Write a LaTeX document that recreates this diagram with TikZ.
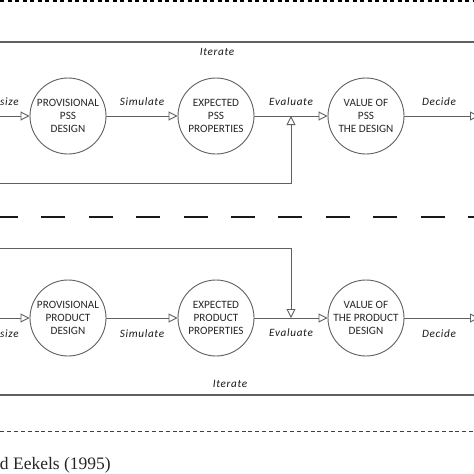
\documentclass[tikz,border=0pt]{standalone}
\usepackage{fontspec}
\setmainfont{Liberation Serif}
\newfontfamily\diagfont{Carlito}
\newfontfamily\labfont[LetterSpace=6]{Carlito}
\usetikzlibrary{arrows.meta}
\definecolor{lineg}{HTML}{606060}
\definecolor{textg}{HTML}{262626}
\tikzset{
  stage/.style={circle, draw=lineg, line width=0.9pt, minimum size=76pt, inner sep=0pt},
  stagetext/.style={align=center, text=textg, font=\diagfont\fontsize{11.2}{13.3}\selectfont},
  flow/.style={draw=lineg, line width=1pt, -{Triangle[open, length=9pt, width=9pt, line width=0.9pt]}},
  boxline/.style={draw=lineg, line width=1.4pt},
  act/.style={text=black!90, font=\labfont\itshape\fontsize{11.2}{13}\selectfont, inner sep=0pt},
}
\begin{document}
\begin{tikzpicture}[x=1pt,y=-1pt]
\clip (0,0) rectangle (474,474);
\fill[white] (0,0) rectangle (474,474);
% top dotted line
\draw[black, line width=2pt, dash pattern=on 4pt off 3.5pt] (0,1.2) -- (474,1.2);
% top section
\coordinate (tl) at (0,42);
\coordinate (tr) at (474,42);
\draw[boxline] (tl) -- (tr);
\node[act] (it1) at (217,52) {Iterate};
\node[stage, label={[stagetext]center:PROVISIONAL\\PSS\\DESIGN}] (c1) at (68,116) {};
\node[stage, label={[stagetext]center:EXPECTED\\PSS\\PROPERTIES}] (c2) at (216,116) {};
\node[stage, label={[stagetext]center:VALUE OF\\PSS\\THE DESIGN}] (c3) at (366,116) {};
\coordinate (in1) at (0,116);
\coordinate (out1) at (479,116);
\coordinate (fb1) at (0,183);
\coordinate (ev1) at (291,116);
\draw[flow] (in1) -- (c1);
\draw[flow] (c1) -- (c2);
\draw[flow] (c2) -- (c3);
\draw[flow] (c3) -- (out1);
\draw[flow] (fb1) -| (ev1);
\node[act, anchor=west] (sy1) at (0,102) {size};
\node[act] (si1) at (142,102) {Simulate};
\node[act] (ev1l) at (291,102) {Evaluate};
\node[act] (de1) at (439,102) {Decide};
% middle dashed line
\draw[black!90, line width=2pt, dash pattern=on 24pt off 23.4pt, dash phase=6pt] (0,217) -- (474,217);
% bottom section
\coordinate (fb2) at (0,248);
\coordinate (ev2) at (291,318);
\draw[flow] (fb2) -| (ev2);
\node[stage, label={[stagetext]center:PROVISIONAL\\PRODUCT\\DESIGN}] (d1) at (68,318) {};
\node[stage, label={[stagetext]center:EXPECTED\\PRODUCT\\PROPERTIES}] (d2) at (216,318) {};
\node[stage, label={[stagetext]center:VALUE OF\\THE PRODUCT\\DESIGN}] (d3) at (366,318) {};
\coordinate (in2) at (0,318);
\coordinate (out2) at (479,318);
\draw[flow] (in2) -- (d1);
\draw[flow] (d1) -- (d2);
\draw[flow] (d2) -- (d3);
\draw[flow] (d3) -- (out2);
\node[act, anchor=west] (sy2) at (0,334) {size};
\node[act] (si2) at (142,334) {Simulate};
\node[act] (ev2l) at (291,333) {Evaluate};
\node[act] (de2) at (439,334) {Decide};
\node[act] (it2) at (230,384) {Iterate};
\coordinate (bl) at (0,395);
\coordinate (br) at (474,395);
\draw[boxline] (bl) -- (br);
% bottom dashed line
\draw[black!75, line width=0.9pt, dash pattern=on 4pt off 2.9pt] (0,431) -- (474,431);
\node[anchor=base east, inner sep=0pt, font=\fontsize{17.5}{19}\selectfont, text=black!85] (src) at (111,469) {d Eekels (1995)};
\end{tikzpicture}
\end{document}
